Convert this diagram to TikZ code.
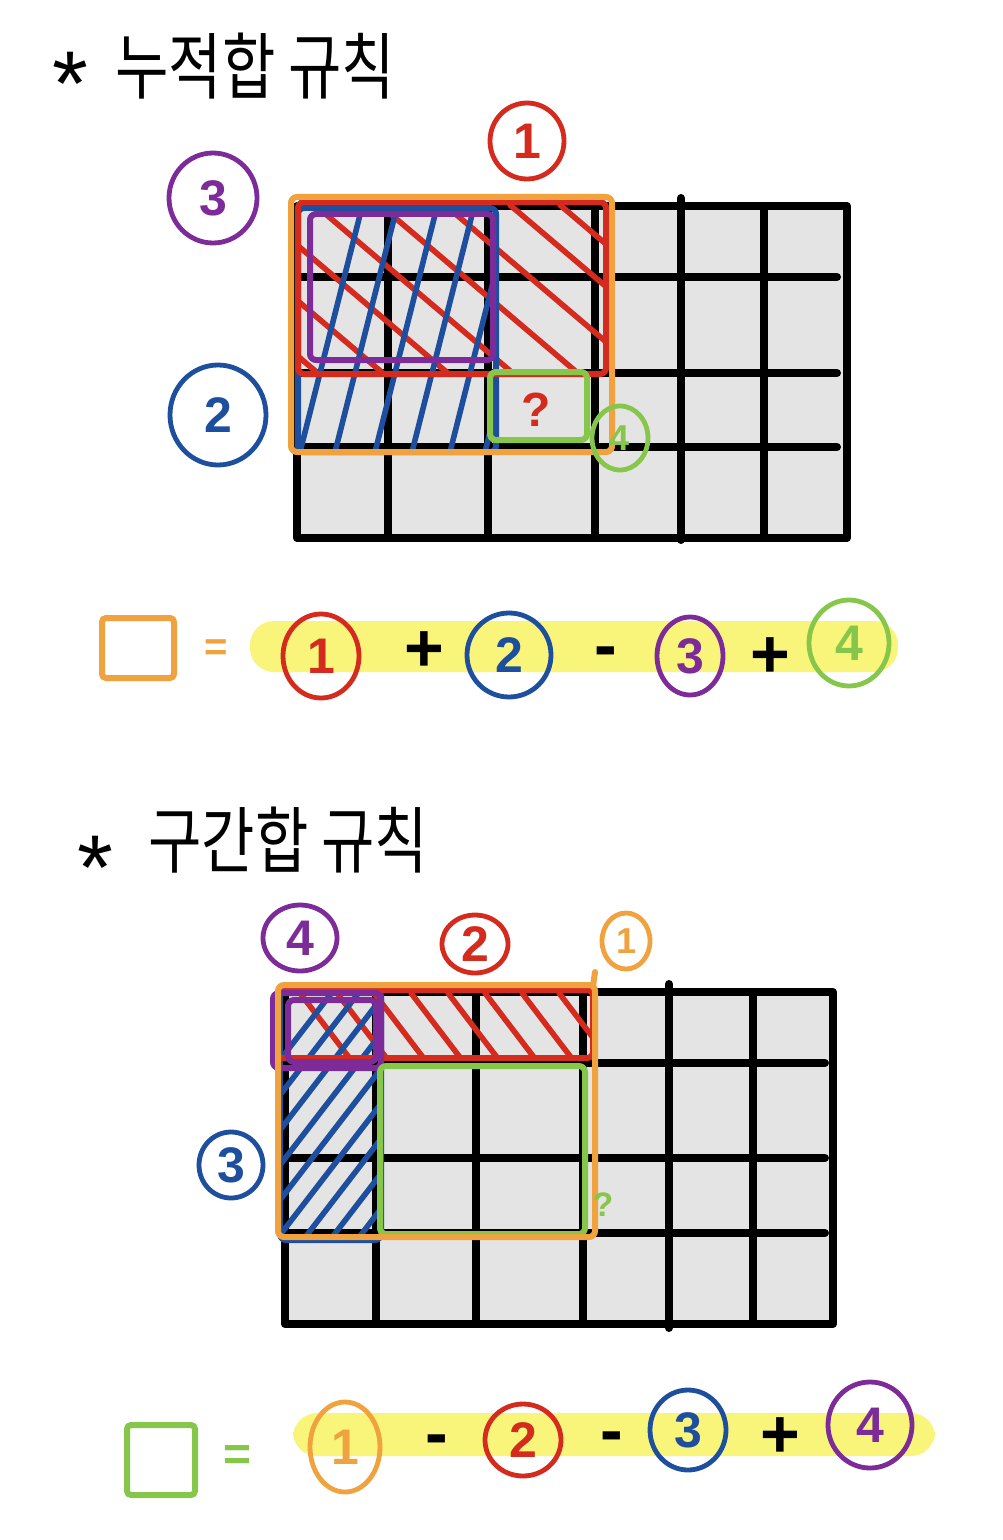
\documentclass[tikz,border=0pt]{standalone}
\usepackage{fontspec}
\setmainfont{Liberation Sans}
\newfontfamily\krfont{Noto Sans CJK KR}
\usetikzlibrary{shapes.geometric}
\definecolor{cred}{HTML}{D52B1E}
\definecolor{cblue}{HTML}{1D4F9E}
\definecolor{cpurple}{HTML}{7D2B98}
\definecolor{cgreen}{HTML}{86C74B}
\definecolor{corange}{HTML}{EFA23E}
\definecolor{cyellow}{HTML}{F8F57A}
\definecolor{cgray}{HTML}{E4E4E4}
\tikzset{
  gridline/.style={line width=4pt, line cap=round, line join=round},
  hand/.style={line width=3pt, line cap=round, line join=round, rounded corners=3pt},
  hatch/.style={line width=2.8pt, line cap=round},
  cnum/.style={ellipse, draw=#1, text=#1, line width=2.4pt, inner sep=0pt},
  big/.style={font=\bfseries\fontsize{25}{25}\selectfont},
  small/.style={font=\bfseries\fontsize{18}{18}\selectfont},
  op/.style={font=\fontsize{34}{34}\selectfont\bfseries, text=black, inner sep=0pt},
  band/.style={fill=cyellow, rounded corners=12pt},
  title/.style={font=\krfont\fontsize{29}{29}\selectfont, inner sep=0pt, anchor=west},
  star/.style={font=\fontsize{46}{46}\selectfont, inner sep=0pt},
}
\begin{document}
\begin{tikzpicture}[x=0.5pt,y=-0.5pt]
\useasboundingbox (0,0) rectangle (1002,1540);
\fill[white] (0,0) rectangle (1002,1540);

% ---------- Title 1 ----------
\node[star] (star1) at (70,84) {*};
\node[title] (title1) at (115,66) {\scalebox{1}[1.25]{누적합 규칙}};

% ---------- Grid 1 ----------
\fill[cgray] (297,206) rectangle (847,538);
\foreach \x in {388,488,595,764} \draw[gridline] (\x,206) -- (\x,538);
\draw[gridline] (681,198) -- (681,540);
\foreach \y in {277,373,447} \draw[gridline] (297,\y) -- (837,\y);
\draw[gridline] (297,206) rectangle (847,538);

% hatching
\begin{scope}
  \clip (300,205) rectangle (604,372);
  \foreach \a in {120,185,250,315,380,445,510,560} \draw[hatch, cred] (\a,205) -- ++(200,170);
\end{scope}
\begin{scope}
  \clip (301,212) rectangle (493,448);
  \foreach \b in {300,335,375,412,450,485} \draw[hatch, cblue] (\b,452) -- ++(62,-245);
\end{scope}

\draw[hand, cblue] (298,208) rectangle (496,452);
\draw[hand, cred] (298,202) rectangle (606,374);
\draw[hand, cpurple] (310,214) rectangle (493,360);
\draw[hand, cgreen] (490,372) rectangle (587,440);
\draw[hand, corange] (291,197) rectangle (612,452);
\node[text=cred, font=\fontsize{24}{24}\selectfont\bfseries, inner sep=0pt] (q1) at (536,410) {?};

\node[cnum=cred, big, minimum width=37pt, minimum height=38pt] (g1one) at (527,141) {1};
\node[cnum=cpurple, big, minimum width=44pt, minimum height=45pt] (g1three) at (213,198) {3};
\node[cnum=cblue, big, minimum width=48pt, minimum height=50pt] (g1two) at (218,415) {2};
\node[cnum=cgreen, small, minimum width=28pt, minimum height=32pt] (g1four) at (620,438) {4};

% ---------- Equation 1 ----------
\fill[band] (250,621) rectangle (898,672);
\node[draw=corange, line width=3pt, rounded corners=2pt, minimum width=36pt, minimum height=30pt, inner sep=0pt] (sq1) at (138,648) {};
\node[text=corange, font=\fontsize{20}{20}\selectfont\bfseries, inner sep=0pt] (eq1) at (216,650) {=};
\node[cnum=cred, big, minimum width=38pt, minimum height=42pt] (e1a) at (321,656) {1};
\node[op] (e1p1) at (424,652) {+};
\node[cnum=cblue, big, minimum width=42pt, minimum height=42pt] (e1b) at (509,655) {2};
\node[op] (e1m) at (606,658) {-};
\node[cnum=cpurple, big, minimum width=33pt, minimum height=39pt] (e1c) at (690,656) {3};
\node[op] (e1p2) at (770,658) {+};
\node[cnum=cgreen, big, minimum width=40pt, minimum height=43pt] (e1d) at (849,643) {4};

% ---------- Title 2 ----------
\node[star] (star2) at (95,868) {*};
\node[title] (title2) at (148,840) {\scalebox{1}[1.25]{구간합 규칙}};

% ---------- Grid 2 ----------
\fill[cgray] (285,992) rectangle (833,1324);
\foreach \x in {376,476,583,753} \draw[gridline] (\x,992) -- (\x,1324);
\draw[gridline] (669,984) -- (669,1328);
\foreach \y in {1063,1158,1233} \draw[gridline] (285,\y) -- (825,\y);
\draw[gridline] (285,992) rectangle (833,1324);

\begin{scope}
  \clip (279,992) rectangle (591,1056);
  \foreach \a in {300,337,374,411,448,485,522,559} \draw[hatch, cred] (\a,993) -- ++(51,67);
\end{scope}
\begin{scope}
  \clip (282,995) rectangle (379,1238);
  \foreach \c in {1060,1095,1130,1165,1200,1235,1270,1305,1340} \draw[hatch, cblue] (280,\c) -- ++(100,-130);
\end{scope}

\draw[hand, cblue] (280,990) rectangle (381,1240);
\draw[hand, cred] (277,990) rectangle (593,1058);
\draw[hand, cpurple] (273,993) rectangle (381,1068);
\draw[hand, cpurple] (288,1000) rectangle (376,1062);
\draw[hand, cgreen] (380,1066) rectangle (585,1234);
\draw[hand, corange] (278,985) rectangle (595,1237);
\draw[hand, corange] (593,986) -- (595,972);
\node[text=cgreen, font=\fontsize{17}{17}\selectfont\bfseries, inner sep=0pt] (q2) at (603,1205) {?};

\node[cnum=cpurple, big, minimum width=37pt, minimum height=33pt] (g2four) at (300,938) {4};
\node[cnum=cred, big, minimum width=33pt, minimum height=29pt] (g2two) at (475,944) {2};
\node[cnum=corange, small, minimum width=24pt, minimum height=28pt] (g2one) at (626,941) {1};
\node[cnum=cblue, big, minimum width=32pt, minimum height=33pt] (g2three) at (231,1165) {3};

% ---------- Equation 2 ----------
\fill[band] (293,1413) rectangle (935,1456);
\node[draw=cgreen, line width=3pt, rounded corners=2pt, minimum width=34pt, minimum height=35pt, inner sep=0pt] (sq2) at (161,1460) {};
\node[text=cgreen, font=\fontsize{24}{24}\selectfont\bfseries, inner sep=0pt] (eq2) at (238,1458) {=};
\node[cnum=corange, big, minimum width=35pt, minimum height=45pt] (e2a) at (345,1447) {1};
\node[op] (e2m1) at (437,1446) {-};
\node[cnum=cred, big, minimum width=38pt, minimum height=36pt] (e2b) at (523,1440) {2};
\node[op] (e2m2) at (612,1443) {-};
\node[cnum=cblue, big, minimum width=38pt, minimum height=40pt] (e2c) at (688,1430) {3};
\node[op] (e2p) at (780,1438) {+};
\node[cnum=cpurple, big, minimum width=42pt, minimum height=43pt] (e2d) at (870,1425) {4};
\end{tikzpicture}
\end{document}
